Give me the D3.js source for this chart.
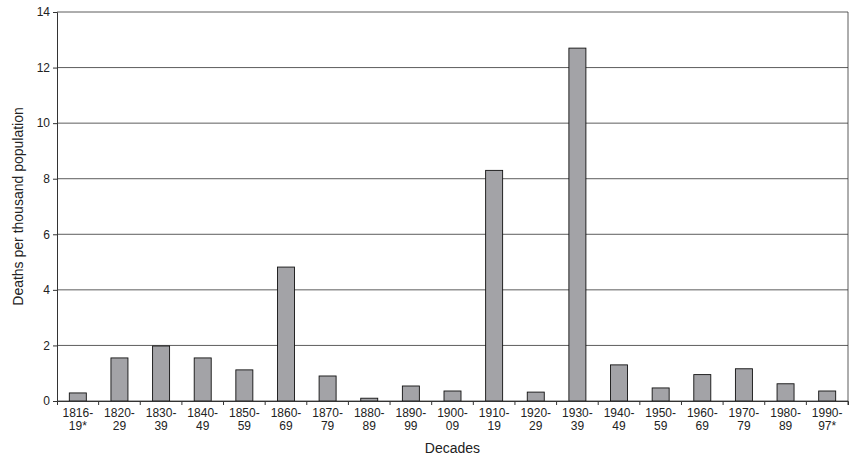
<!DOCTYPE html>
<html><head><meta charset="utf-8">
<script src="https://cdn.jsdelivr.net/npm/d3@7/dist/d3.min.js"></script>
<style>body{margin:0;background:#fff}text{font-family:"Liberation Sans",Arial,sans-serif;fill:#222}</style>
</head><body><svg id="c" width="864" height="464"></svg>
<script>
const categories=["1816-\n19*","1820-\n29","1830-\n39","1840-\n49","1850-\n59","1860-\n69","1870-\n79","1880-\n89","1890-\n99","1900-\n09","1910-\n19","1920-\n29","1930-\n39","1940-\n49","1950-\n59","1960-\n69","1970-\n79","1980-\n89","1990-\n97*"];
const values=[0.29,1.55,1.98,1.55,1.12,4.82,0.9,0.1,0.54,0.36,8.3,0.32,12.7,1.3,0.47,0.95,1.16,0.62,0.36];
const yTicks=[0,2,4,6,8,10,12,14];
const svg=d3.select("#c");
const L=57,R=848,T=12,B=401;
const x=d3.scaleBand().domain(d3.range(categories.length)).range([L,R]);
const y=d3.scaleLinear().domain([0,14]).range([B,T]);
const g=svg.append("g");
g.selectAll("line.grid").data(yTicks).join("line").attr("x1",L).attr("x2",R).attr("y1",d=>y(d)).attr("y2",d=>y(d)).attr("stroke","#333").attr("stroke-width",0.8);
g.append("line").attr("x1",R).attr("x2",R).attr("y1",T).attr("y2",B).attr("stroke","#333").attr("stroke-width",0.8);
const ya=svg.append("g").attr("transform",`translate(${L},0)`).call(d3.axisLeft(y).tickValues(yTicks).tickSize(4).tickFormat(d3.format("d")));
ya.selectAll("text").attr("font-size",12).style("font-family","Liberation Sans");
ya.selectAll("line,path").attr("stroke","#333");
const bw=17;
g.selectAll("rect").data(values).join("rect").attr("x",(d,i)=>x(i)+x.bandwidth()/2-bw/2).attr("width",bw).attr("y",d=>y(d)).attr("height",d=>B-y(d)).attr("fill","#a3a3a7").attr("stroke","#111").attr("stroke-width",0.9);
const xa=svg.append("g").attr("transform",`translate(0,${B})`).call(d3.axisBottom(x).tickSize(4).tickFormat(""));
xa.selectAll("line,path").attr("stroke","#333");
xa.selectAll(".tick line").attr("transform",`translate(${x.bandwidth()/2},0)`);
svg.append("g").selectAll("text").data(categories).join("text").attr("text-anchor","middle").attr("font-size",12)
 .attr("transform",(d,i)=>`translate(${x(i)+x.bandwidth()/2},${B+16})`)
 .each(function(d){const t=d3.select(this);d.split("\n").forEach((s,k)=>t.append("tspan").attr("x",0).attr("dy",k?13:0).text(s));});
svg.append("text").attr("x",(L+R)/2).attr("y",453).attr("text-anchor","middle").attr("font-size",14).text("Decades");
svg.append("text").attr("transform",`translate(23,${(T+B)/2}) rotate(-90)`).attr("text-anchor","middle").attr("font-size",14).text("Deaths per thousand population");
</script></body></html>
